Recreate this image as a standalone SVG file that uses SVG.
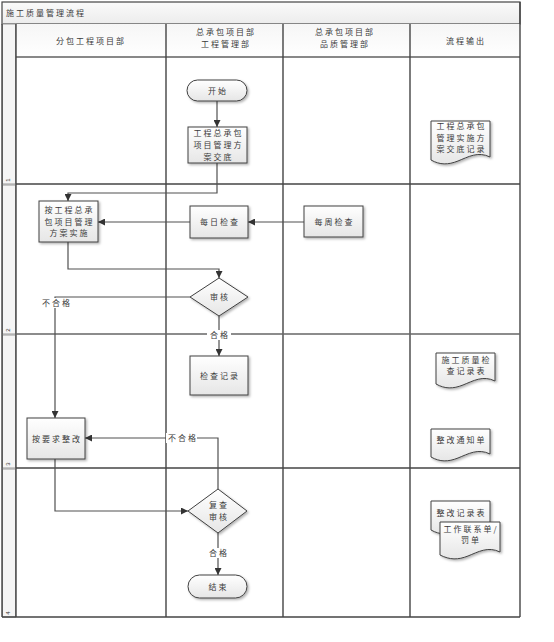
<svg xmlns="http://www.w3.org/2000/svg" width="554" height="642" viewBox="0 0 554 642">
<style>
.t{font-family:"Noto Sans CJK SC","Noto Sans",sans-serif;font-size:8px;fill:#3a3a3a;text-anchor:middle;letter-spacing:2px}
.tl{text-anchor:start}
.rn{font-family:"Liberation Sans",sans-serif;font-size:6px;fill:#333;text-anchor:middle;letter-spacing:0}
.lane{fill:none;stroke:#444;stroke-width:1.4}
.box{fill:url(#gBox);stroke:#404040;stroke-width:1;filter:url(#sh)}
.ca{fill:none;stroke:#505050;stroke-width:1.2;marker-end:url(#ah)}
.bg{fill:#fff}
</style>
<defs>
<linearGradient id="gBox" x1="0" y1="0" x2="0" y2="1"><stop offset="0" stop-color="#ffffff"/><stop offset="1" stop-color="#e6e6e6"/></linearGradient>
<linearGradient id="gHead" x1="0" y1="0" x2="0" y2="1"><stop offset="0" stop-color="#f6f6f6"/><stop offset="1" stop-color="#ffffff"/></linearGradient>
<linearGradient id="gTitle" x1="0" y1="0" x2="0" y2="1"><stop offset="0" stop-color="#fafafa"/><stop offset="1" stop-color="#ececec"/></linearGradient>
<filter id="sh" x="-20%" y="-20%" width="150%" height="150%"><feDropShadow dx="1.5" dy="1.5" stdDeviation="0.8" flood-color="#000" flood-opacity="0.3"/></filter>
<marker id="ah" viewBox="0 0 10 10" refX="10" refY="5" markerWidth="7" markerHeight="7" markerUnits="userSpaceOnUse" orient="auto"><path d="M0,0 L10,5 L0,10 Z" fill="#333"/></marker>
</defs>

<g id="frame">
<rect x="2" y="2" width="518" height="615" fill="#fff" stroke="none"/>
<rect x="2" y="2" width="518" height="22" fill="url(#gTitle)" stroke="#444" stroke-width="1.2"/>
<rect x="16" y="24" width="504" height="33" fill="url(#gHead)" stroke="none"/>
<line x1="16" y1="57" x2="520" y2="57" stroke="#888" stroke-width="1.8"/>
<rect x="2.5" y="24" width="13" height="160" fill="#f5f5f5" stroke="#999" stroke-width="1"/>
<rect x="2.5" y="185" width="13" height="149" fill="#f5f5f5" stroke="#999" stroke-width="1"/>
<rect x="2.5" y="335" width="13" height="133" fill="#f5f5f5" stroke="#999" stroke-width="1"/>
<rect x="2.5" y="469" width="13" height="148" fill="#f5f5f5" stroke="#999" stroke-width="1"/>
<line x1="2" y1="24" x2="2" y2="617" class="lane"/>
<line x1="16" y1="24" x2="16" y2="617" class="lane"/>
<line x1="166" y1="24" x2="166" y2="617" class="lane"/>
<line x1="283" y1="24" x2="283" y2="617" class="lane"/>
<line x1="410" y1="24" x2="410" y2="617" class="lane"/>
<line x1="520" y1="2" x2="520" y2="617" class="lane"/>
<line x1="16" y1="184" x2="520" y2="184" class="lane"/>
<line x1="16" y1="334" x2="520" y2="334" stroke="#666" stroke-width="1.4"/>
<line x1="16" y1="468" x2="520" y2="468" class="lane"/>
<line x1="2" y1="617" x2="520" y2="617" class="lane"/>
<text x="6" y="16" class="t tl">施工质量管理流程</text>
<text x="91" y="44" class="t">分包工程项目部</text>
<text x="226" y="35.2" class="t">总承包项目部</text>
<text x="226" y="46.8" class="t">工程管理部</text>
<text x="345" y="35.2" class="t">总承包项目部</text>
<text x="345" y="46.8" class="t">品质管理部</text>
<text x="466" y="44" class="t">流程输出</text>
<text class="rn" transform="translate(10,180) rotate(-90)">1</text>
<text class="rn" transform="translate(10,330) rotate(-90)">2</text>
<text class="rn" transform="translate(10,464) rotate(-90)">3</text>
<text class="rn" transform="translate(10,613) rotate(-90)">4</text>
</g>

<g id="connectors">
<path class="ca" d="M217,101 V127"/>
<path class="ca" d="M217,163 V193 H68 V201"/>
<path class="ca" d="M304,222 H248"/>
<path class="ca" d="M190,222 H98"/>
<path class="ca" d="M68,242 V269 H219 V278"/>
<path class="ca" d="M190,297 H55 V418"/>
<path class="ca" d="M219,316 V356"/>
<path class="ca" d="M218,489 V438 H85"/>
<path class="ca" d="M55,459 V511 H188"/>
<path class="ca" d="M218,533 V575"/>
<rect x="40" y="298" width="31" height="10" class="bg"/>
<text x="57" y="306" class="t">不合格</text>
<rect x="207" y="330" width="24" height="10" class="bg"/>
<text x="220" y="338" class="t">合格</text>
<rect x="166" y="433" width="31" height="10" class="bg"/>
<text x="183" y="441" class="t">不合格</text>
<rect x="206" y="548" width="24" height="10" class="bg"/>
<text x="219" y="556" class="t">合格</text>
</g>

<g id="start">
<rect x="187" y="80" width="60" height="21" rx="10.5" class="box"/>
<text x="218" y="93.5" class="t">开始</text>
</g>
<g id="n1">
<rect x="188" y="127" width="59" height="36" class="box"/>
<text x="218.5" y="136.4" class="t">工程总承包</text>
<text x="218.5" y="148" class="t">项目管理方</text>
<text x="218.5" y="159.6" class="t">案交底</text>
</g>
<g id="n2">
<rect x="39" y="201" width="59" height="41" class="box"/>
<text x="69.5" y="212.9" class="t">按工程总承</text>
<text x="69.5" y="224.5" class="t">包项目管理</text>
<text x="69.5" y="236.1" class="t">方案实施</text>
</g>
<g id="daily">
<rect x="190" y="206" width="58" height="32" class="box"/>
<text x="220" y="225" class="t">每日检查</text>
</g>
<g id="weekly">
<rect x="304" y="206" width="59" height="31" class="box"/>
<text x="334.5" y="224.5" class="t">每周检查</text>
</g>
<g id="review">
<polygon points="219,278 248,297 219,316 190,297" class="box"/>
<text x="220" y="300" class="t">审核</text>
</g>
<g id="record">
<rect x="190" y="356" width="58" height="39" class="box"/>
<text x="220" y="378.5" class="t">检查记录</text>
</g>
<g id="rectify">
<rect x="27" y="418" width="58" height="41" class="box"/>
<text x="57" y="441.5" class="t">按要求整改</text>
</g>
<g id="recheck">
<polygon points="218,489 247,511 218,533 188,511" class="box"/>
<text x="219" y="508.2" class="t">复查</text>
<text x="219" y="519.8" class="t">审核</text>
</g>
<g id="end">
<rect x="188" y="575" width="59" height="23" rx="11.5" class="box"/>
<text x="218.5" y="589.5" class="t">结束</text>
</g>

<g id="doc1">
<path class="box" d="M431,121 H490 V157 C478,151 468,157 458,161 C448,165 440,165 431,160 Z"/>
<text x="461.5" y="129" class="t">工程总承包</text>
<text x="461.5" y="140.6" class="t">管理实施方</text>
<text x="461.5" y="152.2" class="t">案交底记录</text>
</g>
<g id="doc2">
<path class="box" d="M436,353 H495 V381 C483,375 473,381 463,385 C453,389 445,389 436,384 Z"/>
<text x="466.5" y="362.6" class="t">施工质量检</text>
<text x="466.5" y="374.2" class="t">查记录表</text>
</g>
<g id="doc3">
<path class="box" d="M431,429 H490 V454 C478,448 468,454 458,458 C448,462 440,462 431,457 Z"/>
<text x="461.5" y="443" class="t">整改通知单</text>
</g>
<g id="doc4">
<path class="box" d="M431,501 H490 V527 C478,521 468,527 458,531 C448,535 440,535 431,530 Z"/>
<text x="461.5" y="516" class="t">整改记录表</text>
</g>
<g id="doc5">
<path class="box" d="M440,522 H500 V552 C488,546 478,552 468,556 C458,560 450,560 440,555 Z"/>
<text x="471" y="531.7" class="t">工作联系单/</text>
<text x="471" y="543.3" class="t">罚单</text>
</g>
</svg>
